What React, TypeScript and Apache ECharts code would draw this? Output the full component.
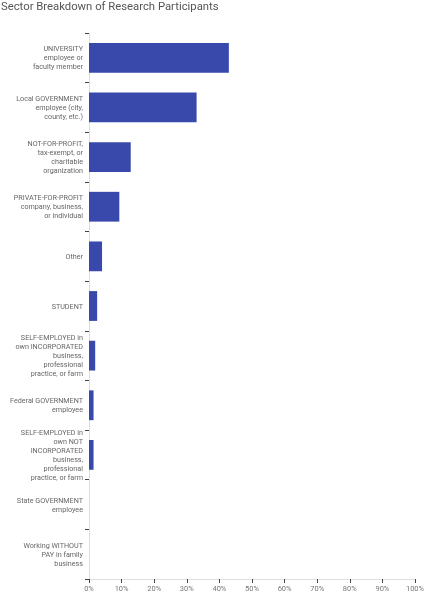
import { useEffect, useRef } from "react";
import * as echarts from "echarts";

const sectors = [
  "UNIVERSITY\nemployee or\nfaculty member",
  "Local GOVERNMENT\nemployee (city,\ncounty, etc.)",
  "NOT-FOR-PROFIT,\ntax-exempt, or\ncharitable\norganization",
  "PRIVATE-FOR-PROFIT\ncompany, business,\nor individual",
  "Other",
  "STUDENT",
  "SELF-EMPLOYED in\nown INCORPORATED\nbusiness,\nprofessional\npractice, or farm",
  "Federal GOVERNMENT\nemployee",
  "SELF-EMPLOYED in\nown NOT\nINCORPORATED\nbusiness,\nprofessional\npractice, or farm",
  "State GOVERNMENT\nemployee",
  "Working WITHOUT\nPAY in family\nbusiness",
];

// share of participants, percent
const shares = [42.9, 33.0, 12.8, 9.3, 4.0, 2.5, 1.9, 1.4, 1.4, 0, 0];

export default function App() {
  const reference = useRef<HTMLDivElement>(null);
  useEffect(() => {
    const element = reference.current;
    if (element === null) return;
    const chart = echarts.init(element, undefined, { renderer: "svg" });
    chart.setOption({
      animation: false,
      textStyle: { fontFamily: "Roboto" },
      title: {
        text: "Sector Breakdown of Research Participants",
        left: -4,
        top: -4,
        textStyle: { fontSize: 11.3, fontWeight: "normal", color: "#555" },
      },
      grid: { left: 89, right: 14, top: 33, bottom: 21, outerBoundsMode: "none" },
      xAxis: {
        type: "value",
        min: 0,
        max: 100,
        interval: 10,
        axisLine: { show: true, lineStyle: { color: "#ddd" } },
        axisTick: { show: true, length: 4, lineStyle: { color: "#444" } },
        splitLine: { show: false },
        axisLabel: {
          color: "#777",
          fontSize: 7.5,
          margin: 5,
          formatter: (value: number) => `${value}%`,
        },
      },
      yAxis: {
        type: "category",
        inverse: true,
        data: sectors,
        axisLine: { show: true, lineStyle: { color: "#ddd" } },
        axisTick: { show: true, length: 4, lineStyle: { color: "#444" } },
        axisLabel: {
          color: "#666",
          fontSize: 7.2,
          lineHeight: 9,
          margin: 6,
          align: "right",
        },
      },
      series: [
        {
          type: "bar",
          data: shares,
          barCategoryGap: "40%",
          itemStyle: { color: "#3949ab" },
        },
      ],
    });
    return () => chart.dispose();
  }, []);
  return (
    <div
      ref={reference}
      style={{ position: "fixed", left: 0, top: 0, width: 429, height: 600 }}
    />
  );
}
